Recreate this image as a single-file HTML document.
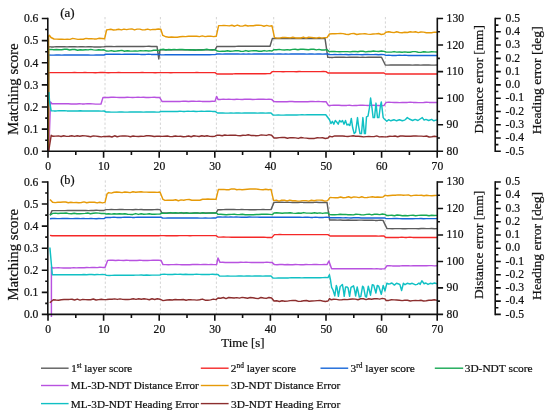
<!DOCTYPE html><html><head><meta charset="utf-8"><style>html,body{margin:0;padding:0;background:#fff;}svg{display:block;}text{font-family:"Liberation Serif", serif;fill:#111;stroke:#111;stroke-width:0.22px;}</style></head><body>
<svg width="550" height="417" viewBox="0 0 550 417">
<rect width="550" height="417" fill="#fff"/>
<line x1="105.0" y1="17.0" x2="105.0" y2="151.0" stroke="#cfcfcf" stroke-width="0.9" stroke-dasharray="2.3,2.1"/>
<line x1="160.4" y1="17.0" x2="160.4" y2="151.0" stroke="#cfcfcf" stroke-width="0.9" stroke-dasharray="2.3,2.1"/>
<line x1="216.4" y1="17.0" x2="216.4" y2="151.0" stroke="#cfcfcf" stroke-width="0.9" stroke-dasharray="2.3,2.1"/>
<line x1="273.7" y1="17.0" x2="273.7" y2="151.0" stroke="#cfcfcf" stroke-width="0.9" stroke-dasharray="2.3,2.1"/>
<line x1="329.5" y1="17.0" x2="329.5" y2="151.0" stroke="#cfcfcf" stroke-width="0.9" stroke-dasharray="2.3,2.1"/>
<line x1="385.4" y1="17.0" x2="385.4" y2="151.0" stroke="#cfcfcf" stroke-width="0.9" stroke-dasharray="2.3,2.1"/>
<path d="M48.3,151.0 L48.5,46.8 L51.1,46.9 L53.8,46.9 L56.4,46.8 L59.1,46.8 L61.7,46.8 L64.4,46.8 L67.0,46.9 L69.6,46.8 L72.3,46.8 L74.9,46.8 L77.6,46.9 L80.2,46.8 L82.9,46.8 L85.5,46.9 L88.1,46.8 L90.8,46.8 L93.4,46.9 L96.1,46.9 L98.7,46.9 L101.4,46.9 L104.0,46.8 L106.0,46.5 L108.7,46.5 L111.4,46.5 L114.1,46.6 L116.7,46.5 L119.4,46.5 L122.1,46.4 L124.8,46.4 L127.5,46.5 L130.2,46.5 L132.8,46.5 L135.5,46.4 L138.2,46.5 L140.9,46.4 L143.6,46.5 L146.3,46.4 L148.9,46.3 L151.6,46.5 L154.3,46.4 L157.0,46.4 L158.8,59.0 L159.9,50.3 L161.0,49.8 L163.7,49.9 L166.4,49.8 L169.1,49.7 L171.8,49.8 L174.5,49.9 L177.2,49.7 L179.9,49.8 L182.6,49.9 L185.3,49.7 L188.0,49.8 L190.7,49.7 L193.4,49.9 L196.1,49.9 L198.8,49.8 L201.5,49.7 L204.2,49.8 L206.9,49.8 L209.6,49.9 L212.3,49.7 L215.0,49.8 L217.0,46.4 L219.7,46.4 L222.3,46.4 L224.9,46.4 L227.6,46.4 L230.2,46.4 L232.9,46.4 L235.6,46.4 L238.2,46.3 L240.8,46.3 L243.5,46.3 L246.2,46.3 L248.8,46.3 L251.4,46.2 L254.1,46.2 L256.8,46.2 L259.4,46.3 L262.1,46.3 L264.7,46.2 L267.4,46.1 L270.0,46.2 L272.4,38.4 L275.0,38.5 L277.7,38.5 L280.3,38.5 L282.9,38.5 L285.5,38.5 L288.2,38.5 L290.8,38.4 L293.4,38.4 L296.1,38.4 L298.7,38.4 L301.3,38.5 L304.0,38.5 L306.6,38.5 L309.2,38.4 L311.9,38.5 L314.5,38.4 L317.1,38.4 L319.7,38.4 L322.4,38.5 L325.0,38.4 L327.8,57.3 L330.5,57.4 L333.2,57.4 L335.9,57.2 L338.5,57.3 L341.2,57.3 L343.9,57.3 L346.6,57.4 L349.3,57.2 L352.0,57.3 L354.6,57.2 L357.3,57.2 L360.0,57.4 L362.7,57.3 L365.4,57.4 L368.1,57.2 L370.8,57.2 L373.4,57.3 L376.1,57.2 L378.8,57.3 L381.5,57.3 L385.3,65.0 L388.0,65.1 L390.7,65.0 L393.5,65.0 L396.2,64.9 L398.9,65.0 L401.6,65.0 L404.3,65.0 L407.1,65.0 L409.8,65.0 L412.5,65.1 L415.2,64.9 L418.0,64.9 L420.7,65.1 L423.4,64.9 L426.1,64.9 L428.8,64.9 L431.6,65.1 L434.3,65.1 L437.0,65.0" fill="none" stroke="#5c5c5c" stroke-width="1.45" stroke-linejoin="round" />
<path d="M48.3,151.0 L48.5,72.6 L51.1,72.6 L53.7,72.6 L56.3,72.6 L58.9,72.6 L61.5,72.6 L64.1,72.6 L66.7,72.6 L69.3,72.6 L71.9,72.6 L74.5,72.5 L77.1,72.6 L79.7,72.6 L82.3,72.6 L84.9,72.5 L87.5,72.6 L90.1,72.6 L92.7,72.6 L95.3,72.7 L97.9,72.6 L100.5,72.5 L103.1,72.5 L105.7,72.6 L108.3,72.7 L110.9,72.6 L113.5,72.6 L116.1,72.6 L118.7,72.5 L121.3,72.6 L123.9,72.6 L126.5,72.6 L129.1,72.6 L131.8,72.6 L134.4,72.6 L137.0,72.6 L139.6,72.6 L142.2,72.5 L144.8,72.6 L147.4,72.6 L150.0,72.6 L152.6,72.6 L155.2,72.7 L157.8,72.6 L160.4,72.6 L163.0,72.6 L165.6,72.6 L168.2,72.6 L170.8,72.7 L173.4,72.6 L176.0,72.6 L178.6,72.6 L181.2,72.6 L183.8,72.6 L186.4,72.6 L189.0,72.6 L191.6,72.6 L194.2,72.6 L196.8,72.5 L199.4,72.6 L202.0,72.6 L204.6,72.6 L207.2,72.6 L209.8,72.6 L212.4,72.6 L215.0,72.6 L217.0,74.0 L219.7,74.0 L222.3,73.9 L225.0,73.9 L227.7,73.9 L230.3,73.9 L233.0,73.9 L235.7,73.8 L238.4,73.8 L241.0,73.8 L243.7,73.7 L246.4,73.8 L249.0,73.8 L251.7,73.8 L254.4,73.7 L257.0,73.7 L259.7,73.7 L262.4,73.7 L265.1,73.7 L267.7,73.6 L270.4,73.6 L272.4,71.6 L275.1,71.6 L277.8,71.6 L280.4,71.6 L283.1,71.7 L285.8,71.6 L288.5,71.6 L291.2,71.6 L293.8,71.6 L296.5,71.7 L299.2,71.5 L301.9,71.6 L304.6,71.6 L307.2,71.6 L309.9,71.6 L312.6,71.6 L315.3,71.6 L318.0,71.6 L320.6,71.6 L323.3,71.5 L326.0,71.6 L328.0,73.0 L330.7,73.0 L333.3,73.0 L336.0,73.0 L338.7,73.0 L341.3,73.0 L344.0,73.0 L346.7,73.0 L349.3,73.0 L352.0,73.0 L354.7,73.0 L357.3,73.0 L360.0,72.9 L362.7,73.0 L365.3,73.0 L368.0,73.0 L370.7,73.0 L373.3,73.0 L376.0,73.0 L378.7,73.0 L381.3,73.0 L384.0,73.0 L385.5,74.0 L388.2,74.0 L390.9,74.0 L393.6,73.9 L396.3,73.9 L399.1,73.9 L401.8,74.0 L404.5,74.0 L407.2,74.0 L409.9,74.0 L412.6,74.0 L415.3,73.9 L418.0,74.0 L420.7,74.0 L423.4,74.0 L426.2,74.0 L428.9,74.0 L431.6,74.0 L434.3,74.0 L437.0,74.0" fill="none" stroke="#f52828" stroke-width="1.45" stroke-linejoin="round" />
<path d="M48.3,151.0 L48.5,55.0 L51.1,55.1 L53.8,55.1 L56.4,54.9 L59.1,54.9 L61.7,55.1 L64.4,55.0 L67.0,55.0 L69.6,55.0 L72.3,55.0 L74.9,55.0 L77.6,55.0 L80.2,54.9 L82.9,55.0 L85.5,55.0 L88.1,55.0 L90.8,55.1 L93.4,55.1 L96.1,55.0 L98.7,55.0 L101.4,55.0 L104.0,55.0 L106.0,54.3 L108.7,54.2 L111.3,54.2 L114.0,54.3 L116.6,54.3 L119.2,54.3 L121.9,54.4 L124.5,54.3 L127.2,54.3 L129.8,54.3 L132.5,54.3 L135.2,54.3 L137.8,54.3 L140.4,54.4 L143.1,54.4 L145.8,54.4 L148.4,54.3 L151.1,54.4 L153.7,54.4 L156.3,54.4 L159.0,54.4 L160.5,54.8 L163.2,54.9 L165.9,54.8 L168.7,54.8 L171.4,54.7 L174.1,54.8 L176.8,54.8 L179.6,54.7 L182.3,54.8 L185.0,54.7 L187.8,54.7 L190.5,54.7 L193.2,54.7 L195.9,54.7 L198.7,54.7 L201.4,54.7 L204.1,54.6 L206.8,54.7 L209.6,54.7 L212.3,54.6 L215.0,54.6 L217.0,54.0 L219.6,54.0 L222.3,54.1 L224.9,54.0 L227.6,54.0 L230.2,54.0 L232.9,54.0 L235.5,54.0 L238.1,53.9 L240.8,54.1 L243.4,54.0 L246.1,54.1 L248.7,54.0 L251.4,54.1 L254.0,54.0 L256.6,54.0 L259.3,54.0 L261.9,54.0 L264.6,54.0 L267.2,54.0 L269.9,54.0 L272.5,54.0 L275.1,54.1 L277.8,54.0 L280.4,53.9 L283.1,54.1 L285.7,54.0 L288.4,54.1 L291.0,54.0 L293.6,54.0 L296.3,53.9 L298.9,54.0 L301.6,54.0 L304.2,54.0 L306.9,54.1 L309.5,53.9 L312.1,54.0 L314.8,54.1 L317.4,54.0 L320.1,54.0 L322.7,54.1 L325.4,54.0 L328.0,54.0 L329.5,54.6 L332.2,54.6 L334.9,54.5 L337.7,54.6 L340.4,54.5 L343.1,54.6 L345.9,54.5 L348.6,54.7 L351.3,54.5 L354.0,54.6 L356.8,54.5 L359.5,54.6 L362.2,54.7 L364.9,54.5 L367.6,54.5 L370.4,54.6 L373.1,54.6 L375.8,54.5 L378.6,54.7 L381.3,54.5 L384.0,54.6 L386.0,55.4 L388.7,55.3 L391.4,55.4 L394.1,55.4 L396.7,55.4 L399.4,55.3 L402.1,55.4 L404.8,55.3 L407.5,55.4 L410.2,55.4 L412.8,55.4 L415.5,55.5 L418.2,55.4 L420.9,55.5 L423.6,55.4 L426.3,55.4 L428.9,55.4 L431.6,55.4 L434.3,55.4 L437.0,55.4" fill="none" stroke="#1666d8" stroke-width="1.45" stroke-linejoin="round" />
<path d="M48.3,151.0 L48.5,49.6 L51.1,49.4 L53.8,49.7 L56.4,49.5 L59.1,49.7 L61.7,49.8 L64.4,49.3 L67.0,49.2 L69.6,50.0 L72.3,49.5 L74.9,49.5 L77.6,50.2 L80.2,49.7 L82.9,50.0 L85.5,49.7 L88.1,49.9 L90.8,49.4 L93.4,49.9 L96.1,50.1 L98.7,49.8 L101.4,50.0 L104.0,49.8 L106.0,51.0 L108.7,51.1 L111.3,50.6 L114.0,51.2 L116.6,51.0 L119.2,50.7 L121.9,50.4 L124.5,51.2 L127.2,50.8 L129.8,51.0 L132.5,51.1 L135.2,50.9 L137.8,51.1 L140.4,50.6 L143.1,50.9 L145.8,50.6 L148.4,51.0 L151.1,50.9 L153.7,50.2 L156.3,50.2 L159.0,50.5 L160.5,49.6 L163.2,49.3 L165.9,50.0 L168.7,49.5 L171.4,49.7 L174.1,49.4 L176.8,49.6 L179.6,49.5 L182.3,49.5 L185.0,49.7 L187.8,49.7 L190.5,50.0 L193.2,49.8 L195.9,50.0 L198.7,49.9 L201.4,50.0 L204.1,49.8 L206.8,49.3 L209.6,49.9 L212.3,50.0 L215.0,49.6 L217.0,51.0 L219.6,51.4 L222.2,51.1 L224.9,51.2 L227.5,50.7 L230.1,51.3 L232.7,51.1 L235.3,50.8 L238.0,50.6 L240.6,51.3 L243.2,51.4 L245.8,50.6 L248.4,51.3 L251.0,50.9 L253.7,50.7 L256.3,50.8 L258.9,51.2 L261.5,51.3 L264.1,50.6 L266.8,51.1 L269.4,50.6 L272.0,51.0 L274.0,49.6 L276.6,49.8 L279.3,49.4 L281.9,49.9 L284.6,50.0 L287.2,49.6 L289.9,50.0 L292.6,49.4 L295.2,49.2 L297.9,49.7 L300.5,49.2 L303.1,49.3 L305.8,49.5 L308.4,49.7 L311.1,49.3 L313.8,49.2 L316.4,49.9 L319.1,49.4 L321.7,50.0 L324.4,50.0 L327.0,49.6 L329.0,51.6 L331.6,51.5 L334.2,51.5 L336.9,51.6 L339.5,51.7 L342.1,51.6 L344.7,51.6 L347.3,51.6 L350.0,51.9 L352.6,51.5 L355.2,51.4 L357.8,51.7 L360.4,51.2 L363.0,51.3 L365.7,51.9 L368.3,51.5 L370.9,51.5 L373.5,51.0 L376.1,51.4 L378.8,51.5 L381.4,51.0 L384.0,51.4 L386.0,52.0 L388.7,52.1 L391.4,52.1 L394.1,51.6 L396.7,52.1 L399.4,52.0 L402.1,52.2 L404.8,51.9 L407.5,52.2 L410.2,52.2 L412.8,51.6 L415.5,51.6 L418.2,52.2 L420.9,52.4 L423.6,51.8 L426.3,52.0 L428.9,52.1 L431.6,51.8 L434.3,51.9 L437.0,52.0" fill="none" stroke="#16a853" stroke-width="1.45" stroke-linejoin="round" />
<path d="M48.8,151.0 L50.5,102.0 L52.0,103.8 L54.7,103.7 L57.4,103.7 L60.2,103.8 L62.9,103.7 L65.6,103.7 L68.3,103.8 L71.1,104.0 L73.8,104.0 L76.5,104.0 L79.2,103.8 L81.9,103.9 L84.7,103.9 L87.4,103.8 L90.1,103.8 L92.8,103.9 L95.6,104.1 L98.3,104.1 L101.0,104.0 L103.0,97.4 L105.7,97.5 L108.4,97.5 L111.1,97.3 L113.8,97.3 L116.5,97.4 L119.2,97.5 L121.9,97.5 L124.6,97.5 L127.3,97.3 L130.0,97.4 L132.6,97.5 L135.3,97.4 L138.0,97.3 L140.7,97.4 L143.4,97.3 L146.1,97.5 L148.8,97.5 L151.5,97.4 L154.2,97.3 L156.9,97.5 L159.6,97.4 L162.0,101.4 L164.7,101.4 L167.3,101.5 L169.9,101.5 L172.6,101.4 L175.2,101.4 L177.9,101.4 L180.6,101.4 L183.2,101.3 L185.8,101.3 L188.5,101.5 L191.2,101.3 L193.8,101.3 L196.4,101.4 L199.1,101.3 L201.8,101.4 L204.4,101.4 L207.1,101.4 L209.7,101.5 L212.3,101.3 L215.0,101.4 L216.6,96.4 L218.0,99.4 L220.7,99.4 L223.4,99.3 L226.0,99.4 L228.7,99.3 L231.4,99.4 L234.1,99.5 L236.8,99.3 L239.4,99.4 L242.1,99.5 L244.8,99.3 L247.5,99.3 L250.2,99.3 L252.8,99.5 L255.5,99.4 L258.2,99.3 L260.9,99.3 L263.6,99.3 L266.2,99.4 L268.9,99.3 L271.6,99.4 L274.0,101.6 L276.6,101.7 L279.2,101.7 L281.8,101.7 L284.4,101.7 L287.0,101.7 L289.6,101.5 L292.2,101.5 L294.8,101.7 L297.4,101.7 L300.0,101.6 L302.6,101.7 L305.2,101.6 L307.8,101.7 L310.4,101.5 L313.0,101.5 L315.6,101.6 L318.2,101.5 L320.8,101.6 L323.4,101.7 L326.0,101.6 L328.4,105.4 L331.0,105.4 L333.7,105.3 L336.3,105.3 L339.0,105.3 L341.6,105.5 L344.3,105.4 L346.9,105.4 L349.6,105.3 L352.2,105.6 L354.9,105.4 L357.5,105.4 L360.2,105.3 L362.8,105.3 L365.5,105.4 L368.1,105.5 L370.8,105.4 L373.4,105.3 L376.1,105.5 L378.7,105.4 L381.4,105.6 L384.0,105.5 L386.2,102.4 L388.9,102.3 L391.5,102.4 L394.2,102.5 L396.9,102.4 L399.6,102.6 L402.2,102.4 L404.9,102.4 L407.6,102.4 L410.3,102.3 L412.9,102.4 L415.6,102.4 L418.3,102.6 L421.0,102.6 L423.6,102.5 L426.3,102.3 L429.0,102.4 L431.7,102.4 L434.3,102.4 L437.0,102.5" fill="none" stroke="#b852e0" stroke-width="1.45" stroke-linejoin="round" />
<path d="M48.6,151.0 L48.6,36.0 L49.5,35.3 L51.0,37.5 L54.0,39.0 L56.7,39.1 L59.3,39.2 L62.0,39.3 L64.7,39.4 L67.3,39.2 L70.0,39.4 L72.6,38.4 L75.3,38.9 L78.0,39.4 L80.6,39.1 L83.3,39.3 L86.0,38.4 L88.6,38.8 L91.3,38.6 L93.9,38.9 L96.6,38.9 L99.3,38.3 L101.9,38.5 L104.6,38.8 L106.6,30.0 L108.2,29.6 L110.8,29.3 L113.5,30.0 L116.1,29.8 L118.7,29.2 L121.4,29.9 L124.0,29.1 L126.6,29.6 L129.2,29.1 L131.9,28.9 L134.5,29.9 L137.1,29.1 L139.8,29.1 L142.4,29.9 L145.0,29.8 L147.7,29.1 L150.3,29.9 L152.9,29.4 L155.5,29.5 L158.2,29.0 L160.8,29.3 L162.8,35.4 L166.0,36.8 L168.8,37.3 L171.6,37.0 L174.4,37.3 L177.2,37.2 L180.0,36.8 L182.8,36.5 L185.6,36.6 L188.4,36.3 L191.2,36.2 L194.0,36.1 L196.8,36.3 L199.5,36.6 L202.3,35.9 L205.1,36.6 L207.9,36.2 L210.7,36.1 L213.5,36.6 L216.3,36.2 L218.6,25.6 L221.3,25.6 L223.9,25.4 L226.6,25.6 L229.3,25.9 L231.9,25.2 L234.6,26.2 L237.3,25.1 L240.0,26.0 L242.6,26.1 L245.3,25.2 L248.0,26.0 L250.6,25.6 L253.3,25.8 L256.0,25.2 L258.6,25.3 L261.3,25.4 L264.0,26.3 L266.7,25.4 L269.3,26.1 L272.0,25.8 L274.5,37.6 L277.1,38.1 L279.8,38.1 L282.4,37.4 L285.0,37.4 L287.6,37.6 L290.2,37.9 L292.9,37.2 L295.5,37.9 L298.1,37.9 L300.8,38.0 L303.4,37.1 L306.0,38.1 L308.6,37.2 L311.2,37.4 L313.9,37.7 L316.5,38.1 L319.1,37.4 L321.8,38.1 L324.4,37.6 L327.0,37.6 L329.5,34.0 L332.2,33.8 L334.9,33.8 L337.7,33.6 L340.4,33.5 L343.1,33.6 L345.9,34.2 L348.6,34.5 L351.3,33.6 L354.0,33.5 L356.8,34.5 L359.5,34.0 L362.2,33.9 L364.9,33.7 L367.6,34.1 L370.4,34.4 L373.1,34.0 L375.8,33.9 L378.6,33.5 L381.3,34.5 L384.0,34.0 L386.0,32.2 L388.7,31.7 L391.4,32.2 L394.1,32.6 L396.7,31.8 L399.4,32.5 L402.1,32.7 L404.8,32.3 L407.5,32.5 L410.2,31.8 L412.8,32.1 L415.5,31.8 L418.2,32.6 L420.9,32.0 L423.6,32.1 L426.3,32.7 L428.9,32.6 L431.6,32.7 L434.3,32.1 L437.0,32.2" fill="none" stroke="#e69a08" stroke-width="1.45" stroke-linejoin="round" />
<path d="M48.9,92.0 L49.6,102.0 L51.2,110.8 L53.8,110.9 L56.5,110.9 L59.1,110.8 L61.8,110.8 L64.4,110.7 L67.0,110.9 L69.7,110.9 L72.3,111.0 L75.0,110.9 L77.6,111.0 L80.2,110.8 L82.9,111.0 L85.5,111.0 L88.2,110.9 L90.8,111.0 L93.4,111.0 L96.1,110.9 L98.7,111.0 L101.4,111.1 L104.0,111.0 L106.0,112.0 L108.7,111.9 L111.3,112.1 L114.0,112.1 L116.7,112.1 L119.4,112.0 L122.0,111.9 L124.7,112.1 L127.4,112.1 L130.1,112.0 L132.8,111.9 L135.4,111.9 L138.1,112.0 L140.8,111.9 L143.4,112.1 L146.1,112.0 L148.8,111.9 L151.5,112.0 L154.2,112.0 L156.8,112.1 L159.5,112.0 L161.0,111.4 L163.7,111.5 L166.4,111.4 L169.1,111.4 L171.8,111.5 L174.5,111.5 L177.2,111.5 L179.9,111.3 L182.6,111.4 L185.3,111.4 L188.0,111.3 L190.7,111.4 L193.4,111.3 L196.1,111.5 L198.8,111.4 L201.5,111.3 L204.2,111.4 L206.9,111.3 L209.6,111.3 L212.3,111.4 L215.0,111.4 L217.5,113.0 L220.2,112.9 L222.8,112.9 L225.5,113.1 L228.2,113.1 L230.9,112.9 L233.6,113.1 L236.2,112.9 L238.9,112.9 L241.6,113.1 L244.2,113.0 L246.9,112.9 L249.6,113.0 L252.3,113.0 L254.9,112.9 L257.6,113.1 L260.3,112.9 L263.0,113.0 L265.6,113.1 L268.3,113.0 L271.0,113.0 L273.0,115.0 L275.6,115.1 L278.3,114.9 L280.9,115.1 L283.6,115.1 L286.2,115.0 L288.8,115.0 L291.5,114.9 L294.1,115.0 L296.8,115.0 L299.4,114.9 L302.0,114.8 L304.7,114.9 L307.3,114.8 L310.0,114.7 L312.6,114.8 L315.2,114.7 L317.9,114.7 L320.5,114.8 L323.2,114.6 L325.8,114.7 L329.5,119.8 L330.9,123.5 L332.4,121.3 L333.8,124.2 L335.3,120.5 L336.7,122.0 L338.2,124.2 L339.6,120.5 L341.1,122.0 L342.5,120.5 L344.0,124.2 L345.5,120.5 L346.9,124.9 L348.4,124.2 L349.8,125.6 L351.3,118.4 L352.7,127.8 L354.2,133.6 L355.6,132.2 L357.5,117.6 L358.5,125.6 L360.0,133.6 L361.5,133.6 L362.9,117.6 L364.4,133.6 L365.4,133.6 L366.5,116.9 L368.0,116.2 L369.5,107.5 L370.6,98.0 L372.1,108.9 L373.1,117.6 L374.5,117.6 L376.0,103.1 L377.5,117.6 L378.9,117.6 L380.4,106.0 L381.3,101.9 L383.2,117.6 L384.3,119.0 L386.8,121.2 L388.6,119.7 L390.8,120.8 L394.0,119.7 L396.5,120.8 L399.4,119.7 L402.3,120.8 L404.5,120.1 L405.5,119.5 L407.3,117.6 L409.3,119.0 L412.6,120.5 L415.1,119.4 L418.0,120.5 L420.1,119.0 L422.3,117.6 L424.1,120.1 L425.9,119.4 L428.7,120.5 L431.6,119.4 L433.8,120.8 L435.9,120.1 L437.0,120.0" fill="none" stroke="#10c0c4" stroke-width="1.45" stroke-linejoin="round" />
<path d="M48.5,151.0 L49.5,146.0 L51.2,135.3 L53.0,136.3 L55.7,136.1 L58.4,135.9 L61.1,136.5 L63.7,135.8 L66.4,136.4 L69.1,136.2 L71.8,135.8 L74.5,136.4 L77.2,135.8 L79.8,136.3 L82.5,135.8 L85.2,135.9 L87.9,136.3 L90.6,136.8 L93.3,135.9 L95.9,136.1 L98.6,136.5 L101.3,136.9 L104.0,136.4 L106.6,136.5 L109.3,136.3 L111.9,137.0 L114.6,135.8 L117.2,136.8 L119.9,136.1 L122.5,135.9 L125.1,135.9 L127.8,136.1 L130.4,136.7 L133.1,136.0 L135.7,136.4 L138.4,136.5 L141.0,136.2 L143.6,136.4 L146.3,135.8 L148.9,135.8 L151.6,136.0 L154.2,136.5 L156.9,136.2 L159.5,136.1 L162.1,136.4 L164.8,136.2 L167.4,136.0 L170.1,136.6 L172.7,136.5 L175.4,136.0 L178.0,136.4 L180.6,136.3 L183.3,136.7 L185.9,136.5 L188.6,136.0 L191.2,136.8 L193.9,135.8 L196.5,136.1 L199.1,136.5 L201.8,135.8 L204.4,136.2 L207.1,135.7 L209.7,136.4 L212.4,136.5 L215.0,136.2 L217.0,135.2 L219.6,135.3 L222.2,135.7 L224.8,135.0 L227.4,135.4 L230.0,135.3 L232.6,135.3 L235.2,135.1 L237.8,135.6 L240.4,135.7 L243.0,135.2 L245.6,135.4 L248.2,134.7 L250.8,135.4 L253.4,135.4 L256.0,135.8 L258.6,135.6 L261.2,134.9 L263.8,135.1 L266.4,135.4 L269.0,134.6 L271.6,135.2 L274.0,138.0 L276.7,138.0 L279.4,137.6 L282.1,137.5 L284.8,137.5 L287.5,138.3 L290.2,137.6 L292.9,137.7 L295.6,137.9 L298.3,138.4 L301.0,137.5 L303.7,137.9 L306.4,138.1 L309.1,138.5 L311.8,138.4 L314.5,138.4 L317.2,137.7 L319.9,137.9 L322.6,137.8 L325.3,138.5 L328.0,138.0 L329.5,136.3 L332.1,136.9 L334.7,135.9 L337.4,135.9 L340.0,136.0 L342.6,136.0 L345.2,136.3 L347.9,136.5 L350.5,136.1 L353.1,135.8 L355.7,136.3 L358.3,136.2 L361.0,136.5 L363.6,136.9 L366.2,136.6 L368.8,136.4 L371.5,136.6 L374.1,136.6 L376.7,135.9 L379.3,136.9 L381.9,136.8 L384.6,136.9 L387.2,136.8 L389.8,136.3 L392.4,136.4 L395.0,136.0 L397.7,136.7 L400.3,136.0 L402.9,136.0 L405.5,136.2 L408.2,136.1 L410.8,136.3 L413.4,136.0 L416.0,135.9 L418.6,136.1 L421.3,136.1 L423.9,136.4 L426.5,136.0 L429.1,137.0 L431.8,136.7 L434.4,136.2 L437.0,136.6" fill="none" stroke="#8c2e2e" stroke-width="1.45" stroke-linejoin="round" />
<path d="M47.8,17.7 L47.8,152.1" stroke="#111" stroke-width="1.6" fill="none"/>
<path d="M47.1,151.3 L438.0,151.3" stroke="#111" stroke-width="1.6" fill="none"/>
<path d="M437.3,17.7 L437.3,152.1" stroke="#111" stroke-width="1.6" fill="none"/>
<path d="M495.2,17.7 L495.2,152.1" stroke="#111" stroke-width="1.6" fill="none"/>
<path d="M41.8,151.30 h6.0 M45.2,140.23 h2.6 M41.8,129.17 h6.0 M45.2,118.10 h2.6 M41.8,107.03 h6.0 M45.2,95.97 h2.6 M41.8,84.90 h6.0 M45.2,73.83 h2.6 M41.8,62.77 h6.0 M45.2,51.70 h2.6 M41.8,40.63 h6.0 M45.2,29.57 h2.6 M41.8,18.50 h6.0 M437.3,151.30 h5.8 M437.3,138.02 h2.6 M437.3,124.74 h5.8 M437.3,111.46 h2.6 M437.3,98.18 h5.8 M437.3,84.90 h2.6 M437.3,71.62 h5.8 M437.3,58.34 h2.6 M437.3,45.06 h5.8 M437.3,31.78 h2.6 M437.3,18.50 h5.8 M495.2,151.30 h5.6 M495.2,144.66 h3.2 M495.2,138.02 h5.6 M495.2,131.38 h3.2 M495.2,124.74 h5.6 M495.2,118.10 h3.2 M495.2,111.46 h5.6 M495.2,104.82 h3.2 M495.2,98.18 h5.6 M495.2,91.54 h3.2 M495.2,84.90 h5.6 M495.2,78.26 h3.2 M495.2,71.62 h5.6 M495.2,64.98 h3.2 M495.2,58.34 h5.6 M495.2,51.70 h3.2 M495.2,45.06 h5.6 M495.2,38.42 h3.2 M495.2,31.78 h5.6 M495.2,25.14 h3.2 M495.2,18.50 h5.6 M48.00,151.3 v6.4 M75.80,151.3 v3.6 M103.60,151.3 v6.4 M131.40,151.3 v3.6 M159.20,151.3 v6.4 M187.00,151.3 v3.6 M214.80,151.3 v6.4 M242.60,151.3 v3.6 M270.40,151.3 v6.4 M298.20,151.3 v3.6 M326.00,151.3 v6.4 M353.80,151.3 v3.6 M381.60,151.3 v6.4 M409.40,151.3 v3.6 M437.20,151.3 v6.4" stroke="#111" stroke-width="1.6" fill="none"/>
<text x="38.4" y="155.1" font-size="11.6" text-anchor="end">0.0</text>
<text x="38.4" y="133.0" font-size="11.6" text-anchor="end">0.1</text>
<text x="38.4" y="110.8" font-size="11.6" text-anchor="end">0.2</text>
<text x="38.4" y="88.7" font-size="11.6" text-anchor="end">0.3</text>
<text x="38.4" y="66.6" font-size="11.6" text-anchor="end">0.4</text>
<text x="38.4" y="44.4" font-size="11.6" text-anchor="end">0.5</text>
<text x="38.4" y="22.3" font-size="11.6" text-anchor="end">0.6</text>
<text x="446.6" y="154.7" font-size="11.6">80</text>
<text x="446.6" y="128.1" font-size="11.6">90</text>
<text x="446.6" y="101.6" font-size="11.6">100</text>
<text x="446.6" y="75.0" font-size="11.6">110</text>
<text x="446.6" y="48.5" font-size="11.6">120</text>
<text x="446.6" y="21.9" font-size="11.6">130</text>
<text x="505.6" y="154.5" font-size="11.6">-0.5</text>
<text x="505.6" y="141.2" font-size="11.6">-0.4</text>
<text x="505.6" y="127.9" font-size="11.6">-0.3</text>
<text x="505.6" y="114.7" font-size="11.6">-0.2</text>
<text x="505.6" y="101.4" font-size="11.6">-0.1</text>
<text x="505.6" y="88.1" font-size="11.6">0.0</text>
<text x="505.6" y="74.8" font-size="11.6">0.1</text>
<text x="505.6" y="61.5" font-size="11.6">0.2</text>
<text x="505.6" y="48.3" font-size="11.6">0.3</text>
<text x="505.6" y="35.0" font-size="11.6">0.4</text>
<text x="505.6" y="21.7" font-size="11.6">0.5</text>
<text x="48.2" y="170.1" font-size="11.6" text-anchor="middle">0</text>
<text x="103.8" y="170.1" font-size="11.6" text-anchor="middle">10</text>
<text x="159.4" y="170.1" font-size="11.6" text-anchor="middle">20</text>
<text x="215.0" y="170.1" font-size="11.6" text-anchor="middle">30</text>
<text x="270.6" y="170.1" font-size="11.6" text-anchor="middle">40</text>
<text x="326.2" y="170.1" font-size="11.6" text-anchor="middle">50</text>
<text x="381.8" y="170.1" font-size="11.6" text-anchor="middle">60</text>
<text x="437.4" y="170.1" font-size="11.6" text-anchor="middle">70</text>
<text transform="translate(17.6,89.2) rotate(-90)" font-size="14.5" text-anchor="middle" textLength="91.6" lengthAdjust="spacingAndGlyphs">Matching score</text>
<text transform="translate(483.4,79.3) rotate(-90)" font-size="13.2" text-anchor="middle" textLength="108.2" lengthAdjust="spacingAndGlyphs">Distance error [mm]</text>
<text transform="translate(541.4,80.3) rotate(-90)" font-size="13.2" text-anchor="middle" textLength="108" lengthAdjust="spacingAndGlyphs">Heading error [deg]</text>
<text x="60.2" y="16.9" font-size="13" textLength="14.4" lengthAdjust="spacingAndGlyphs">(a)</text>
<line x1="105.3" y1="180.4" x2="105.3" y2="314.4" stroke="#cfcfcf" stroke-width="0.9" stroke-dasharray="2.3,2.1"/>
<line x1="160.4" y1="180.4" x2="160.4" y2="314.4" stroke="#cfcfcf" stroke-width="0.9" stroke-dasharray="2.3,2.1"/>
<line x1="216.4" y1="180.4" x2="216.4" y2="314.4" stroke="#cfcfcf" stroke-width="0.9" stroke-dasharray="2.3,2.1"/>
<line x1="272.2" y1="180.4" x2="272.2" y2="314.4" stroke="#cfcfcf" stroke-width="0.9" stroke-dasharray="2.3,2.1"/>
<line x1="329.5" y1="180.4" x2="329.5" y2="314.4" stroke="#cfcfcf" stroke-width="0.9" stroke-dasharray="2.3,2.1"/>
<line x1="385.2" y1="180.4" x2="385.2" y2="314.4" stroke="#cfcfcf" stroke-width="0.9" stroke-dasharray="2.3,2.1"/>
<path d="M50.0,215.2 L52.0,210.6 L54.6,210.6 L57.2,210.6 L59.8,210.6 L62.4,210.6 L65.0,210.6 L67.6,210.5 L70.2,210.5 L72.8,210.5 L75.4,210.4 L78.0,210.4 L80.6,210.4 L83.2,210.4 L85.8,210.4 L88.4,210.6 L91.0,210.5 L93.6,210.5 L96.2,210.3 L98.8,210.4 L101.4,210.4 L104.0,210.4 L106.0,209.6 L108.7,209.6 L111.4,209.5 L114.1,209.6 L116.8,209.6 L119.5,209.5 L122.2,209.5 L124.9,209.6 L127.6,209.6 L130.3,209.6 L133.0,209.7 L135.7,209.5 L138.4,209.6 L141.1,209.5 L143.8,209.7 L146.5,209.6 L149.2,209.7 L151.9,209.7 L154.6,209.6 L157.3,209.5 L160.0,209.6 L162.0,213.0 L164.7,212.9 L167.4,212.9 L170.1,212.9 L172.8,213.1 L175.5,213.1 L178.2,213.1 L180.9,213.0 L183.6,213.0 L186.3,213.0 L189.0,213.1 L191.7,213.1 L194.4,213.0 L197.1,213.0 L199.8,213.1 L202.5,213.0 L205.2,213.0 L207.9,213.0 L210.6,213.0 L213.3,213.0 L216.0,213.0 L218.0,209.6 L220.7,209.7 L223.3,209.6 L225.9,209.5 L228.6,209.5 L231.2,209.5 L233.9,209.5 L236.6,209.6 L239.2,209.6 L241.8,209.5 L244.5,209.6 L247.2,209.6 L249.8,209.7 L252.4,209.7 L255.1,209.7 L257.8,209.6 L260.4,209.6 L263.1,209.5 L265.7,209.6 L268.4,209.6 L271.0,209.6 L274.0,202.4 L276.6,202.3 L279.3,202.3 L281.9,202.3 L284.6,202.4 L287.2,202.3 L289.9,202.4 L292.6,202.5 L295.2,202.4 L297.9,202.5 L300.5,202.3 L303.1,202.4 L305.8,202.4 L308.4,202.5 L311.1,202.4 L313.8,202.4 L316.4,202.3 L319.1,202.5 L321.7,202.5 L324.4,202.4 L327.0,202.4 L329.6,220.0 L332.3,220.0 L334.9,220.0 L337.6,220.1 L340.3,220.0 L343.0,220.2 L345.6,220.2 L348.3,220.0 L351.0,220.3 L353.6,220.3 L356.3,220.3 L359.0,220.1 L361.6,220.1 L364.3,220.3 L367.0,220.3 L369.6,220.3 L372.3,220.3 L375.0,220.4 L377.7,220.4 L380.3,220.3 L383.0,220.4 L387.0,228.6 L389.6,228.6 L392.3,228.7 L394.9,228.6 L397.5,228.6 L400.2,228.6 L402.8,228.7 L405.4,228.7 L408.1,228.6 L410.7,228.6 L413.3,228.6 L415.9,228.6 L418.6,228.7 L421.2,228.5 L423.8,228.5 L426.5,228.6 L429.1,228.6 L431.7,228.5 L434.4,228.7 L437.0,228.6" fill="none" stroke="#5c5c5c" stroke-width="1.45" stroke-linejoin="round" />
<path d="M50.0,235.4 L52.0,235.8 L54.6,235.7 L57.2,235.8 L59.8,235.8 L62.4,235.8 L65.0,235.8 L67.6,235.7 L70.2,235.8 L72.8,235.7 L75.4,235.8 L78.0,235.7 L80.6,235.8 L83.2,235.7 L85.8,235.7 L88.4,235.7 L91.0,235.8 L93.7,235.8 L96.3,235.8 L98.9,235.7 L101.5,235.7 L104.1,235.7 L106.7,235.8 L109.3,235.7 L111.9,235.7 L114.5,235.7 L117.1,235.8 L119.7,235.7 L122.3,235.7 L124.9,235.8 L127.5,235.7 L130.1,235.7 L132.7,235.7 L135.3,235.7 L137.9,235.7 L140.5,235.7 L143.1,235.6 L145.7,235.7 L148.3,235.7 L150.9,235.6 L153.5,235.7 L156.1,235.6 L158.7,235.7 L161.3,235.6 L163.9,235.6 L166.5,235.7 L169.1,235.7 L171.7,235.6 L174.3,235.7 L177.0,235.7 L179.6,235.6 L182.2,235.6 L184.8,235.6 L187.4,235.6 L190.0,235.7 L192.6,235.6 L195.2,235.6 L197.8,235.6 L200.4,235.6 L203.0,235.6 L205.6,235.6 L208.2,235.6 L210.8,235.6 L213.4,235.6 L216.0,235.6 L218.0,237.0 L220.7,237.1 L223.4,237.0 L226.1,237.1 L228.8,237.1 L231.5,237.2 L234.2,237.1 L236.9,237.2 L239.6,237.2 L242.3,237.1 L245.0,237.2 L247.7,237.2 L250.4,237.3 L253.1,237.3 L255.8,237.2 L258.5,237.3 L261.2,237.3 L263.9,237.3 L266.6,237.4 L269.3,237.4 L272.0,237.4 L274.4,234.6 L277.1,234.6 L279.8,234.5 L282.4,234.6 L285.1,234.6 L287.8,234.6 L290.5,234.6 L293.2,234.6 L295.8,234.6 L298.5,234.6 L301.2,234.6 L303.9,234.6 L306.6,234.6 L309.2,234.6 L311.9,234.6 L314.6,234.6 L317.3,234.6 L320.0,234.6 L322.6,234.6 L325.3,234.6 L328.0,234.6 L330.0,236.0 L332.7,235.9 L335.4,236.0 L338.1,236.0 L340.8,236.0 L343.5,236.0 L346.2,236.0 L348.9,235.9 L351.6,236.0 L354.3,236.0 L357.0,236.0 L359.7,236.0 L362.4,236.0 L365.1,236.0 L367.8,236.0 L370.5,236.0 L373.2,236.0 L375.9,236.0 L378.6,236.1 L381.3,236.0 L384.0,236.0 L385.5,237.4 L388.2,237.4 L390.9,237.4 L393.6,237.4 L396.3,237.4 L399.1,237.4 L401.8,237.3 L404.5,237.4 L407.2,237.4 L409.9,237.3 L412.6,237.4 L415.3,237.4 L418.0,237.4 L420.7,237.4 L423.4,237.4 L426.2,237.4 L428.9,237.4 L431.6,237.5 L434.3,237.4 L437.0,237.4" fill="none" stroke="#f52828" stroke-width="1.45" stroke-linejoin="round" />
<path d="M50.0,218.8 L52.0,218.5 L54.6,218.4 L57.2,218.6 L59.8,218.6 L62.4,218.5 L65.0,218.5 L67.6,218.5 L70.2,218.6 L72.8,218.6 L75.4,218.5 L78.0,218.5 L80.6,218.6 L83.2,218.5 L85.8,218.6 L88.4,218.6 L91.0,218.5 L93.6,218.6 L96.2,218.7 L98.8,218.5 L101.4,218.6 L104.0,218.6 L106.0,217.4 L108.6,217.4 L111.2,217.4 L113.9,217.3 L116.5,217.4 L119.1,217.4 L121.7,217.4 L124.3,217.3 L127.0,217.3 L129.6,217.3 L132.2,217.4 L134.8,217.4 L137.4,217.2 L140.0,217.3 L142.7,217.3 L145.3,217.2 L147.9,217.2 L150.5,217.2 L153.1,217.2 L155.8,217.2 L158.4,217.2 L161.0,217.2 L162.5,218.0 L165.2,218.1 L167.8,217.9 L170.5,217.9 L173.2,218.0 L175.9,218.0 L178.6,218.0 L181.2,218.0 L183.9,218.0 L186.6,218.0 L189.2,218.0 L191.9,217.9 L194.6,218.0 L197.3,218.0 L199.9,218.1 L202.6,218.1 L205.3,217.9 L208.0,218.1 L210.7,218.1 L213.3,218.0 L216.0,218.0 L217.5,217.0 L220.2,217.0 L222.8,217.1 L225.5,217.0 L228.1,217.1 L230.8,217.0 L233.4,217.1 L236.1,217.0 L238.7,217.1 L241.4,217.2 L244.0,217.1 L246.7,217.2 L249.4,217.0 L252.0,217.1 L254.7,217.1 L257.3,217.1 L260.0,217.2 L262.6,217.2 L265.3,217.2 L267.9,217.1 L270.6,217.2 L273.2,217.2 L275.9,217.2 L278.6,217.2 L281.2,217.2 L283.9,217.2 L286.5,217.3 L289.2,217.2 L291.8,217.3 L294.5,217.2 L297.1,217.2 L299.8,217.3 L302.5,217.4 L305.1,217.3 L307.8,217.3 L310.4,217.4 L313.1,217.4 L315.7,217.3 L318.4,217.4 L321.0,217.4 L323.7,217.4 L326.3,217.3 L329.0,217.4 L330.0,217.8 L332.6,217.8 L335.2,217.8 L337.9,217.8 L340.5,217.8 L343.1,217.9 L345.7,217.8 L348.3,217.9 L351.0,218.0 L353.6,217.8 L356.2,217.8 L358.8,217.8 L361.4,218.0 L364.0,218.0 L366.7,217.9 L369.3,217.9 L371.9,218.0 L374.5,217.9 L377.1,218.0 L379.8,218.0 L382.4,218.0 L385.0,218.0 L386.0,218.6 L388.7,218.6 L391.4,218.6 L394.1,218.5 L396.7,218.5 L399.4,218.6 L402.1,218.7 L404.8,218.7 L407.5,218.7 L410.2,218.6 L412.8,218.7 L415.5,218.6 L418.2,218.6 L420.9,218.5 L423.6,218.7 L426.3,218.6 L428.9,218.6 L431.6,218.6 L434.3,218.6 L437.0,218.6" fill="none" stroke="#1666d8" stroke-width="1.45" stroke-linejoin="round" />
<path d="M50.0,215.2 L52.6,213.4 L55.3,213.1 L58.0,213.5 L60.7,213.3 L63.4,213.2 L66.1,213.0 L68.8,213.6 L71.5,213.8 L74.2,213.2 L76.9,213.7 L79.7,213.8 L82.4,213.6 L85.1,213.4 L87.8,213.0 L90.5,213.7 L93.2,213.3 L95.9,213.0 L98.6,213.1 L101.3,213.5 L104.0,213.4 L106.0,214.0 L108.7,213.7 L111.4,214.1 L114.1,213.7 L116.8,214.0 L119.5,213.8 L122.2,214.0 L124.9,213.8 L127.6,214.2 L130.3,214.4 L133.0,214.4 L135.7,213.6 L138.4,214.4 L141.1,213.8 L143.8,214.3 L146.5,214.1 L149.2,213.7 L151.9,214.3 L154.6,214.2 L157.3,214.1 L160.0,214.0 L162.0,213.0 L164.7,213.4 L167.4,213.3 L170.2,212.6 L172.9,213.0 L175.6,212.8 L178.3,213.1 L181.1,212.6 L183.8,213.4 L186.5,212.8 L189.2,213.4 L192.0,213.2 L194.7,213.0 L197.4,212.9 L200.2,213.4 L202.9,212.8 L205.6,213.4 L208.3,213.1 L211.1,213.0 L213.8,212.9 L216.5,213.0 L218.0,214.4 L220.7,214.3 L223.4,214.5 L226.2,214.7 L228.9,214.5 L231.6,214.4 L234.3,214.3 L237.1,214.6 L239.8,214.5 L242.5,214.2 L245.2,214.7 L248.0,214.7 L250.7,214.7 L253.4,214.8 L256.1,214.5 L258.9,214.5 L261.6,214.2 L264.3,214.3 L267.1,214.2 L269.8,214.4 L272.5,214.6 L274.0,213.0 L276.7,212.7 L279.4,213.0 L282.1,213.3 L284.8,213.0 L287.5,213.0 L290.2,212.7 L292.9,213.1 L295.6,213.4 L298.3,213.0 L301.0,213.3 L303.7,212.6 L306.4,213.1 L309.1,213.1 L311.8,213.2 L314.5,212.8 L317.2,213.3 L319.9,212.9 L322.6,213.4 L325.3,212.9 L328.0,213.0 L329.5,214.6 L332.1,214.8 L334.8,214.8 L337.4,214.6 L340.1,214.3 L342.7,214.5 L345.4,214.4 L348.0,214.8 L350.6,214.8 L353.3,214.9 L355.9,214.3 L358.6,214.4 L361.2,214.7 L363.9,214.9 L366.5,214.4 L369.1,214.1 L371.8,214.9 L374.4,214.3 L377.1,214.3 L379.7,214.6 L382.4,214.0 L385.0,214.4 L386.5,215.4 L389.2,215.4 L391.8,215.2 L394.5,215.8 L397.1,215.0 L399.8,215.2 L402.4,215.7 L405.1,215.5 L407.8,215.8 L410.4,215.4 L413.1,215.3 L415.7,215.8 L418.4,215.4 L421.1,215.2 L423.7,215.1 L426.4,215.2 L429.0,215.8 L431.7,215.2 L434.3,215.5 L437.0,215.4" fill="none" stroke="#16a853" stroke-width="1.45" stroke-linejoin="round" />
<path d="M51.4,317.0 L51.4,267.2 L53.0,268.0 L55.6,267.9 L58.2,267.8 L60.8,267.9 L63.4,268.0 L66.0,267.9 L68.6,267.9 L71.2,267.9 L73.8,267.8 L76.4,267.9 L79.0,267.7 L81.6,267.7 L84.2,267.8 L86.8,267.5 L89.4,267.6 L92.0,267.4 L94.6,267.5 L97.2,267.6 L99.8,267.3 L102.4,267.4 L105.0,267.4 L107.6,260.4 L110.3,260.3 L112.9,260.3 L115.6,260.5 L118.3,260.3 L120.9,260.4 L123.6,260.5 L126.3,260.3 L129.0,260.4 L131.6,260.4 L134.3,260.4 L137.0,260.5 L139.6,260.3 L142.3,260.4 L145.0,260.4 L147.7,260.5 L150.3,260.4 L153.0,260.3 L155.7,260.3 L158.3,260.3 L161.0,260.4 L163.0,264.6 L165.7,264.6 L168.4,264.7 L171.0,264.6 L173.7,264.6 L176.4,264.5 L179.1,264.6 L181.8,264.7 L184.4,264.7 L187.1,264.6 L189.8,264.7 L192.5,264.5 L195.2,264.5 L197.8,264.5 L200.5,264.6 L203.2,264.5 L205.9,264.5 L208.6,264.6 L211.2,264.5 L213.9,264.6 L216.6,264.6 L218.0,258.0 L220.0,262.4 L222.6,262.3 L225.2,262.5 L227.8,262.4 L230.4,262.5 L233.0,262.4 L235.6,262.4 L238.2,262.5 L240.8,262.3 L243.4,262.4 L246.0,262.3 L248.6,262.4 L251.2,262.5 L253.8,262.4 L256.4,262.4 L259.0,262.5 L261.6,262.4 L264.2,262.4 L266.8,262.3 L269.4,262.4 L272.0,262.4 L274.4,264.6 L277.0,264.7 L279.7,264.5 L282.3,264.5 L284.9,264.7 L287.5,264.5 L290.2,264.7 L292.8,264.7 L295.4,264.5 L298.1,264.6 L300.7,264.7 L303.3,264.7 L306.0,264.5 L308.6,264.6 L311.2,264.6 L313.9,264.5 L316.5,264.5 L319.1,264.6 L321.7,264.6 L324.4,264.5 L327.0,264.6 L328.9,261.0 L331.6,268.7 L334.3,268.8 L336.9,268.7 L339.6,268.7 L342.2,268.6 L344.9,268.8 L347.5,268.6 L350.2,268.7 L352.8,268.8 L355.5,268.7 L358.1,268.8 L360.8,268.8 L363.5,268.8 L366.1,268.8 L368.8,268.7 L371.4,268.7 L374.1,268.9 L376.7,268.7 L379.4,268.9 L382.0,268.9 L384.7,268.8 L387.0,265.8 L389.6,265.8 L392.3,265.9 L394.9,265.9 L397.5,265.9 L400.2,265.9 L402.8,265.7 L405.4,265.7 L408.1,265.7 L410.7,265.9 L413.3,265.6 L415.9,265.7 L418.6,265.7 L421.2,265.7 L423.8,265.7 L426.5,265.8 L429.1,265.6 L431.7,265.6 L434.4,265.9 L437.0,265.7" fill="none" stroke="#b852e0" stroke-width="1.45" stroke-linejoin="round" />
<path d="M50.0,199.4 L52.6,202.3 L55.2,202.6 L57.8,202.3 L60.5,202.2 L63.1,202.0 L65.7,202.0 L68.3,202.7 L70.9,202.3 L73.6,202.6 L76.2,202.5 L78.8,202.8 L81.4,202.5 L84.0,201.9 L86.7,202.8 L89.3,202.3 L91.9,202.2 L94.5,202.2 L97.1,202.9 L99.8,202.3 L102.4,202.9 L105.0,202.4 L107.0,194.0 L108.6,192.6 L111.3,193.1 L114.0,192.3 L116.7,192.0 L119.4,192.2 L122.1,192.6 L124.8,192.0 L127.5,192.3 L130.2,192.6 L132.9,191.8 L135.7,192.2 L138.4,192.0 L141.1,191.8 L143.8,192.1 L146.5,192.1 L149.2,192.2 L151.9,192.2 L154.6,192.2 L157.3,192.4 L160.0,192.0 L163.0,199.4 L165.0,200.4 L167.7,200.1 L170.4,200.2 L173.1,200.2 L175.7,199.7 L178.4,200.7 L181.1,199.9 L183.8,200.2 L186.5,199.6 L189.2,199.5 L191.8,200.2 L194.5,200.3 L197.2,200.1 L199.9,200.2 L202.6,199.2 L205.3,199.2 L207.9,199.0 L210.6,199.2 L213.3,199.1 L216.0,199.4 L218.4,189.4 L221.0,189.4 L223.7,189.4 L226.3,189.7 L228.9,189.7 L231.6,188.9 L234.2,188.9 L236.8,189.8 L239.4,189.4 L242.1,189.8 L244.7,189.5 L247.3,189.2 L250.0,189.0 L252.6,189.0 L255.2,188.9 L257.9,189.2 L260.5,189.6 L263.1,189.8 L265.7,189.3 L268.4,189.7 L271.0,189.4 L273.6,200.6 L276.3,200.1 L279.0,201.1 L281.7,200.1 L284.4,200.3 L287.1,200.9 L289.8,200.1 L292.5,200.8 L295.2,200.8 L297.9,201.1 L300.6,200.9 L303.3,200.6 L306.0,200.6 L308.7,201.1 L311.4,200.3 L314.1,200.8 L316.8,200.1 L319.5,200.1 L322.2,200.2 L324.9,201.1 L327.6,200.6 L330.0,197.4 L332.6,197.6 L335.3,197.7 L337.9,197.7 L340.6,197.0 L343.2,197.8 L345.9,197.5 L348.6,196.8 L351.2,197.8 L353.9,196.9 L356.5,197.1 L359.1,197.6 L361.8,196.8 L364.4,197.6 L367.1,197.5 L369.8,197.1 L372.4,196.7 L375.1,197.2 L377.7,197.0 L380.4,197.2 L383.0,197.0 L385.0,195.4 L387.6,195.8 L390.2,195.5 L392.8,195.2 L395.4,195.2 L398.0,194.9 L400.6,194.9 L403.2,195.2 L405.8,195.1 L408.4,194.9 L411.0,195.9 L413.6,195.4 L416.2,195.1 L418.8,195.4 L421.4,195.3 L424.0,195.8 L426.6,195.2 L429.2,195.6 L431.8,195.7 L434.4,195.5 L437.0,195.4" fill="none" stroke="#e69a08" stroke-width="1.45" stroke-linejoin="round" />
<path d="M49.9,247.5 L52.3,274.7 L54.9,274.6 L57.6,274.7 L60.2,274.7 L62.8,274.6 L65.5,274.8 L68.1,274.6 L70.7,274.7 L73.4,274.6 L76.0,274.7 L78.7,274.7 L81.3,274.7 L83.9,274.5 L86.6,274.7 L89.2,274.5 L91.8,274.5 L94.5,274.7 L97.1,274.5 L99.7,274.6 L102.4,274.5 L105.0,274.6 L106.5,275.4 L109.2,275.5 L111.8,275.4 L114.5,275.3 L117.2,275.3 L119.9,275.3 L122.5,275.2 L125.2,275.3 L127.9,275.2 L130.6,275.1 L133.2,275.2 L135.9,275.1 L138.6,275.1 L141.3,275.0 L143.9,275.2 L146.6,275.0 L149.3,275.2 L152.0,275.1 L154.7,275.1 L157.3,275.1 L160.0,275.0 L161.5,274.4 L164.2,274.3 L166.9,274.4 L169.6,274.4 L172.3,274.5 L175.0,274.3 L177.6,274.4 L180.3,274.3 L183.0,274.5 L185.7,274.3 L188.4,274.5 L191.1,274.4 L193.8,274.4 L196.5,274.3 L199.2,274.4 L201.9,274.5 L204.5,274.5 L207.2,274.4 L209.9,274.4 L212.6,274.3 L215.3,274.5 L218.0,274.4 L219.5,276.0 L222.2,276.1 L224.9,276.1 L227.6,276.0 L230.3,276.1 L233.1,276.1 L235.8,276.1 L238.5,276.0 L241.2,276.0 L243.9,276.1 L246.6,276.0 L249.3,275.9 L252.0,276.1 L254.7,276.0 L257.4,275.9 L260.2,275.9 L262.9,276.1 L265.6,275.9 L268.3,275.9 L271.0,276.0 L273.0,278.0 L275.6,278.1 L278.2,278.0 L280.9,277.9 L283.5,278.0 L286.1,277.9 L288.7,277.9 L291.3,277.8 L294.0,277.8 L296.6,277.7 L299.2,277.7 L301.8,277.9 L304.4,277.8 L307.0,277.7 L309.7,277.6 L312.3,277.7 L314.9,277.7 L317.5,277.8 L320.1,277.8 L322.8,277.6 L325.4,277.5 L328.0,277.6 L329.4,274.7 L330.5,280.0 L331.6,287.3 L333.0,290.0 L334.8,295.9 L336.3,285.5 L337.0,287.3 L338.4,296.3 L340.2,286.5 L341.3,285.5 L342.4,284.4 L343.5,290.9 L344.2,296.3 L345.6,286.9 L347.1,286.9 L348.1,288.0 L349.6,296.3 L351.0,287.3 L352.5,286.5 L353.5,285.8 L354.6,290.1 L355.6,296.0 L357.2,286.9 L359.3,297.0 L360.8,296.6 L362.6,286.2 L363.6,287.3 L365.4,296.6 L366.5,297.0 L368.3,286.2 L370.5,295.2 L372.3,284.7 L373.7,285.1 L375.9,293.0 L377.3,285.5 L378.7,286.2 L381.3,294.3 L383.2,285.5 L385.0,290.9 L386.8,283.3 L388.6,284.0 L390.1,283.7 L391.9,283.0 L394.4,285.1 L396.5,283.3 L398.7,284.0 L399.8,284.4 L401.6,290.5 L403.4,283.3 L405.0,284.7 L407.2,283.3 L410.0,284.0 L412.2,283.3 L415.1,284.7 L417.2,284.4 L419.0,283.0 L420.1,284.4 L421.9,280.8 L424.1,283.7 L425.9,283.0 L428.0,284.4 L430.2,283.3 L432.3,283.7 L434.5,283.0 L437.0,283.7" fill="none" stroke="#10c0c4" stroke-width="1.45" stroke-linejoin="round" />
<path d="M49.8,302.8 L53.3,299.7 L56.0,300.0 L58.6,300.2 L61.3,299.8 L64.0,299.5 L66.6,299.4 L69.3,299.4 L72.0,299.2 L74.6,300.0 L77.3,299.1 L80.0,300.1 L82.7,299.4 L85.3,299.6 L88.0,299.7 L90.7,299.7 L93.3,299.0 L96.0,300.0 L98.7,299.6 L101.3,299.2 L104.0,299.6 L106.7,299.5 L109.3,299.2 L112.0,299.2 L114.7,298.9 L117.3,299.4 L120.0,298.9 L122.7,299.4 L125.3,299.5 L128.0,299.5 L130.7,299.2 L133.3,298.8 L136.0,299.4 L138.7,298.8 L141.3,299.2 L144.0,298.8 L146.7,299.1 L149.3,299.8 L152.0,298.8 L154.7,299.5 L157.3,298.8 L160.0,299.2 L163.0,300.6 L167.0,300.0 L169.7,299.8 L172.4,300.0 L175.2,299.5 L177.9,299.7 L180.6,299.8 L183.3,299.5 L186.1,300.3 L188.8,299.6 L191.5,299.8 L194.2,299.9 L196.9,300.1 L199.7,299.8 L202.4,299.1 L205.1,300.2 L207.8,300.2 L210.6,299.9 L213.3,299.1 L216.0,299.6 L218.0,298.0 L220.7,298.2 L223.4,297.5 L226.0,298.6 L228.7,297.5 L231.4,297.7 L234.1,298.0 L236.8,297.6 L239.4,298.1 L242.1,297.4 L244.8,297.8 L247.5,298.2 L250.2,297.5 L252.8,297.7 L255.5,298.2 L258.2,298.6 L260.9,297.5 L263.6,298.0 L266.2,298.4 L268.9,297.5 L271.6,298.0 L274.0,301.0 L276.7,300.8 L279.4,301.5 L282.1,300.7 L284.8,301.2 L287.5,301.1 L290.2,300.6 L292.9,300.5 L295.6,300.5 L298.3,301.4 L301.0,301.2 L303.7,300.8 L306.4,300.5 L309.1,301.3 L311.8,301.0 L314.5,300.9 L317.2,300.6 L319.9,300.4 L322.6,301.0 L325.3,301.5 L328.0,301.0 L329.5,298.5 L331.0,299.8 L333.7,299.2 L336.4,299.4 L339.1,299.9 L341.8,299.7 L344.5,299.4 L347.2,299.6 L349.9,299.2 L352.6,299.0 L355.3,299.1 L358.0,299.7 L360.7,298.8 L363.4,298.7 L366.1,299.6 L368.8,298.8 L371.5,299.2 L374.2,298.7 L376.9,298.6 L379.6,299.1 L382.3,298.4 L385.0,298.9 L386.0,300.4 L388.7,300.4 L391.4,299.8 L394.1,299.9 L396.7,300.0 L399.4,300.3 L402.1,300.6 L404.8,300.3 L407.5,300.3 L410.2,301.0 L412.8,300.6 L415.5,300.4 L418.2,300.6 L420.9,300.3 L423.6,301.0 L426.3,300.7 L428.9,300.2 L431.6,300.3 L434.3,299.8 L437.0,300.4" fill="none" stroke="#8c2e2e" stroke-width="1.45" stroke-linejoin="round" />
<path d="M47.8,181.2 L47.8,315.2" stroke="#111" stroke-width="1.6" fill="none"/>
<path d="M47.1,314.4 L438.0,314.4" stroke="#111" stroke-width="1.6" fill="none"/>
<path d="M437.3,181.2 L437.3,315.2" stroke="#111" stroke-width="1.6" fill="none"/>
<path d="M495.2,181.2 L495.2,315.2" stroke="#111" stroke-width="1.6" fill="none"/>
<path d="M41.8,314.40 h6.0 M45.2,303.37 h2.6 M41.8,292.33 h6.0 M45.2,281.30 h2.6 M41.8,270.27 h6.0 M45.2,259.23 h2.6 M41.8,248.20 h6.0 M45.2,237.17 h2.6 M41.8,226.13 h6.0 M45.2,215.10 h2.6 M41.8,204.07 h6.0 M45.2,193.03 h2.6 M41.8,182.00 h6.0 M437.3,314.40 h5.8 M437.3,301.16 h2.6 M437.3,287.92 h5.8 M437.3,274.68 h2.6 M437.3,261.44 h5.8 M437.3,248.20 h2.6 M437.3,234.96 h5.8 M437.3,221.72 h2.6 M437.3,208.48 h5.8 M437.3,195.24 h2.6 M437.3,182.00 h5.8 M495.2,314.40 h5.6 M495.2,307.78 h3.2 M495.2,301.16 h5.6 M495.2,294.54 h3.2 M495.2,287.92 h5.6 M495.2,281.30 h3.2 M495.2,274.68 h5.6 M495.2,268.06 h3.2 M495.2,261.44 h5.6 M495.2,254.82 h3.2 M495.2,248.20 h5.6 M495.2,241.58 h3.2 M495.2,234.96 h5.6 M495.2,228.34 h3.2 M495.2,221.72 h5.6 M495.2,215.10 h3.2 M495.2,208.48 h5.6 M495.2,201.86 h3.2 M495.2,195.24 h5.6 M495.2,188.62 h3.2 M495.2,182.00 h5.6 M48.00,314.4 v6.4 M75.80,314.4 v3.6 M103.60,314.4 v6.4 M131.40,314.4 v3.6 M159.20,314.4 v6.4 M187.00,314.4 v3.6 M214.80,314.4 v6.4 M242.60,314.4 v3.6 M270.40,314.4 v6.4 M298.20,314.4 v3.6 M326.00,314.4 v6.4 M353.80,314.4 v3.6 M381.60,314.4 v6.4 M409.40,314.4 v3.6 M437.20,314.4 v6.4" stroke="#111" stroke-width="1.6" fill="none"/>
<text x="38.4" y="318.2" font-size="11.6" text-anchor="end">0.0</text>
<text x="38.4" y="296.1" font-size="11.6" text-anchor="end">0.1</text>
<text x="38.4" y="274.1" font-size="11.6" text-anchor="end">0.2</text>
<text x="38.4" y="252.0" font-size="11.6" text-anchor="end">0.3</text>
<text x="38.4" y="229.9" font-size="11.6" text-anchor="end">0.4</text>
<text x="38.4" y="207.9" font-size="11.6" text-anchor="end">0.5</text>
<text x="38.4" y="185.8" font-size="11.6" text-anchor="end">0.6</text>
<text x="446.6" y="317.8" font-size="11.6">80</text>
<text x="446.6" y="291.3" font-size="11.6">90</text>
<text x="446.6" y="264.8" font-size="11.6">100</text>
<text x="446.6" y="238.4" font-size="11.6">110</text>
<text x="446.6" y="211.9" font-size="11.6">120</text>
<text x="446.6" y="185.4" font-size="11.6">130</text>
<text x="505.6" y="317.6" font-size="11.6">-0.5</text>
<text x="505.6" y="304.4" font-size="11.6">-0.4</text>
<text x="505.6" y="291.1" font-size="11.6">-0.3</text>
<text x="505.6" y="277.9" font-size="11.6">-0.2</text>
<text x="505.6" y="264.6" font-size="11.6">-0.1</text>
<text x="505.6" y="251.4" font-size="11.6">0.0</text>
<text x="505.6" y="238.2" font-size="11.6">0.1</text>
<text x="505.6" y="224.9" font-size="11.6">0.2</text>
<text x="505.6" y="211.7" font-size="11.6">0.3</text>
<text x="505.6" y="198.4" font-size="11.6">0.4</text>
<text x="505.6" y="185.2" font-size="11.6">0.5</text>
<text x="48.2" y="333.2" font-size="11.6" text-anchor="middle">0</text>
<text x="103.8" y="333.2" font-size="11.6" text-anchor="middle">10</text>
<text x="159.4" y="333.2" font-size="11.6" text-anchor="middle">20</text>
<text x="215.0" y="333.2" font-size="11.6" text-anchor="middle">30</text>
<text x="270.6" y="333.2" font-size="11.6" text-anchor="middle">40</text>
<text x="326.2" y="333.2" font-size="11.6" text-anchor="middle">50</text>
<text x="381.8" y="333.2" font-size="11.6" text-anchor="middle">60</text>
<text x="437.4" y="333.2" font-size="11.6" text-anchor="middle">70</text>
<text transform="translate(17.6,254.8) rotate(-90)" font-size="14.5" text-anchor="middle" textLength="91.6" lengthAdjust="spacingAndGlyphs">Matching score</text>
<text transform="translate(483.4,244.9) rotate(-90)" font-size="13.2" text-anchor="middle" textLength="108.2" lengthAdjust="spacingAndGlyphs">Distance error [mm]</text>
<text transform="translate(541.4,245.9) rotate(-90)" font-size="13.2" text-anchor="middle" textLength="108" lengthAdjust="spacingAndGlyphs">Heading error [deg]</text>
<text x="60.2" y="184.3" font-size="13" textLength="14.4" lengthAdjust="spacingAndGlyphs">(b)</text>
<text x="242.9" y="346.6" font-size="12.6" text-anchor="middle" textLength="43.2" lengthAdjust="spacingAndGlyphs">Time [s]</text>
<line x1="41.0" y1="368.2" x2="68.6" y2="368.2" stroke="#5c5c5c" stroke-width="1.4"/>
<text x="71.2" y="372.1" font-size="11.4" textLength="61.0" lengthAdjust="spacingAndGlyphs">1<tspan font-size="7.4" dy="-3.9">st</tspan><tspan dy="3.9"> layer score</tspan></text>
<line x1="200.8" y1="368.2" x2="228.6" y2="368.2" stroke="#f52828" stroke-width="1.4"/>
<text x="230.8" y="372.1" font-size="11.4" textLength="65.3" lengthAdjust="spacingAndGlyphs">2<tspan font-size="7.4" dy="-3.9">nd</tspan><tspan dy="3.9"> layer score</tspan></text>
<line x1="320.5" y1="368.2" x2="348.2" y2="368.2" stroke="#1666d8" stroke-width="1.4"/>
<text x="350.6" y="372.1" font-size="11.4" textLength="64.2" lengthAdjust="spacingAndGlyphs">3<tspan font-size="7.4" dy="-3.9">rd</tspan><tspan dy="3.9"> layer score</tspan></text>
<line x1="434.8" y1="368.2" x2="463.2" y2="368.2" stroke="#16a853" stroke-width="1.4"/>
<text x="464.7" y="372.1" font-size="11.4" textLength="67.8" lengthAdjust="spacingAndGlyphs">3D-NDT score</text>
<line x1="41.0" y1="385.5" x2="68.6" y2="385.5" stroke="#b852e0" stroke-width="1.4"/>
<text x="70.8" y="389.4" font-size="11.4" textLength="128.0" lengthAdjust="spacingAndGlyphs">ML-3D-NDT Distance Error</text>
<line x1="200.8" y1="385.5" x2="228.6" y2="385.5" stroke="#e69a08" stroke-width="1.4"/>
<text x="231.0" y="389.4" font-size="11.4" textLength="109.3" lengthAdjust="spacingAndGlyphs">3D-NDT Distance Error</text>
<line x1="41.0" y1="403.6" x2="68.6" y2="403.6" stroke="#10c0c4" stroke-width="1.4"/>
<text x="70.8" y="407.6" font-size="11.4" textLength="128.0" lengthAdjust="spacingAndGlyphs">ML-3D-NDT Heading Error</text>
<line x1="200.8" y1="403.6" x2="228.6" y2="403.6" stroke="#8c2e2e" stroke-width="1.4"/>
<text x="231.0" y="407.6" font-size="11.4" textLength="109.3" lengthAdjust="spacingAndGlyphs">3D-NDT Heading Error</text>
</svg></body></html>
